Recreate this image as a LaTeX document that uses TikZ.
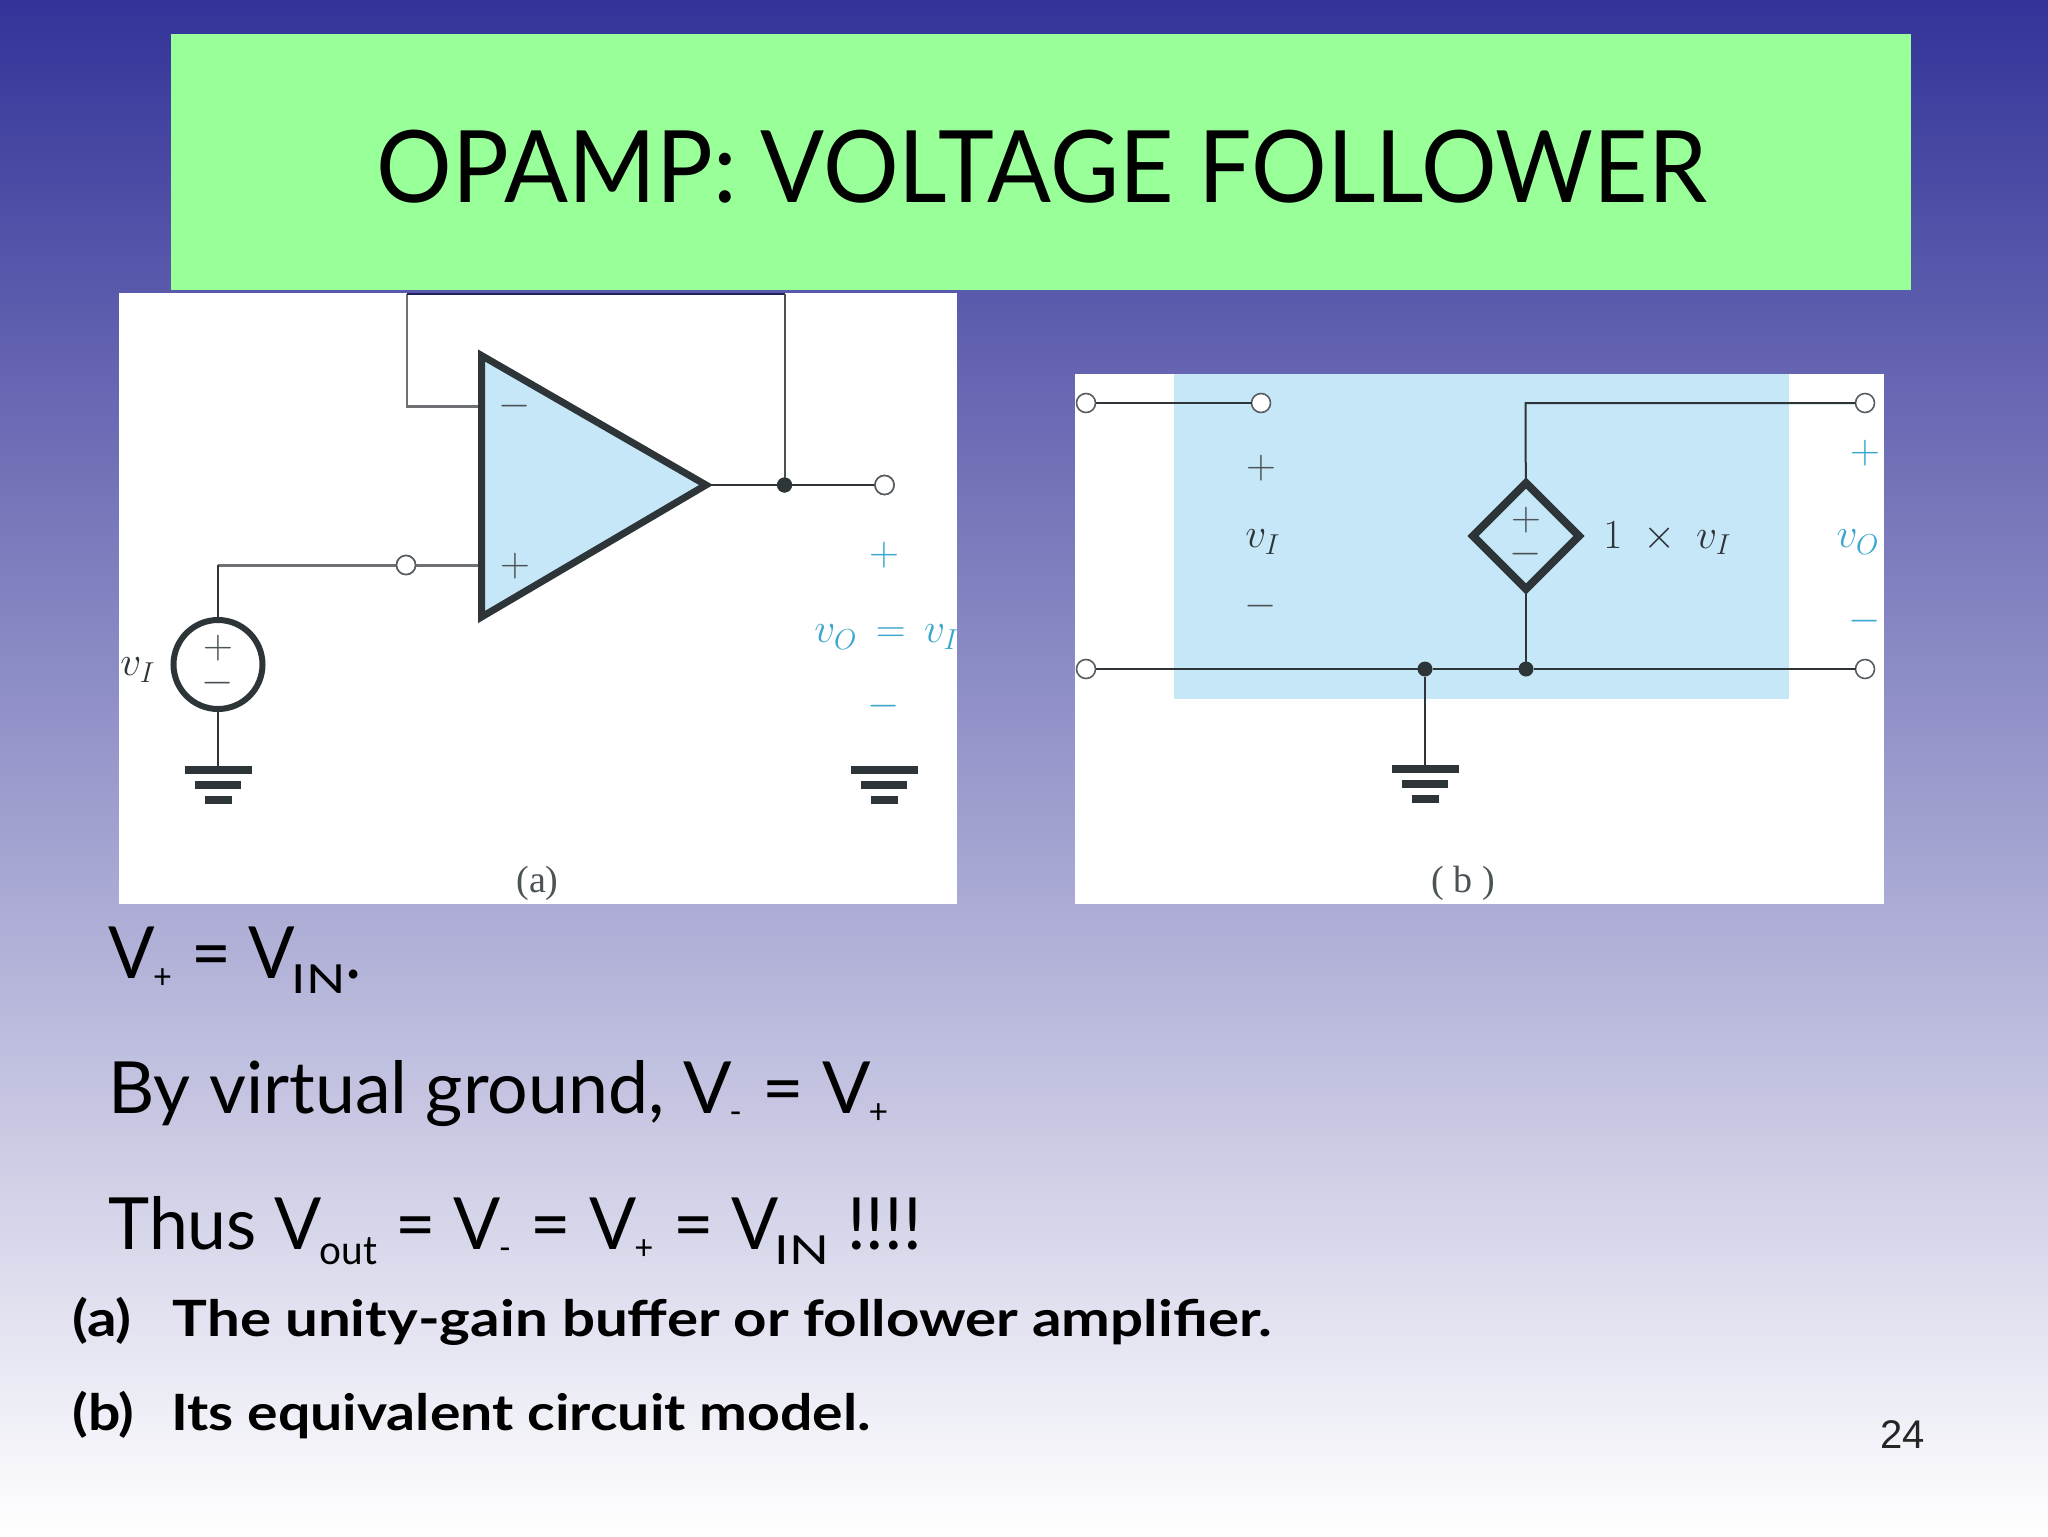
\documentclass[tikz,border=0pt]{standalone}
\usepackage{graphicx}
\usepackage{fontspec}
\usetikzlibrary{shapes.geometric}
\setmainfont{Lato}
\newfontfamily\serifcap{Liberation Serif}
\newfontfamily\numfont{Liberation Sans}
\definecolor{skyfill}{HTML}{C6E7F8}
\definecolor{wiredark}{HTML}{2D3539}
\definecolor{wiregrey}{HTML}{6E7074}
\definecolor{cyanlab}{HTML}{3BA7CE}
\definecolor{titlegreen}{HTML}{99FF99}
\definecolor{bgtop}{HTML}{333399}
\newcommand{\lowtxt}[1]{\hspace{-1pt}\raisebox{-7.5pt}{\fontsize{20}{20}\selectfont #1}}
\newcommand{\lowin}{\hspace{-2pt}\raisebox{-7.5pt}{\fontsize{20}{20}\selectfont\scalebox{1.35}[1]{IN}}}
\newcommand{\lowsign}[1]{\hspace{-1pt}\raisebox{-5pt}{\fontsize{17}{17}\selectfont #1}\hspace{1pt}}
\tikzset{
  wire/.style={draw=wiredark,line width=1pt},
  greywire/.style={draw=wiregrey,line width=1.5pt},
  terminal/.style={circle,draw=wiredark!80,fill=white,line width=0.8pt,minimum size=9.5pt,inner sep=0pt,outer sep=0pt},
  junction/.style={circle,fill=wiredark,minimum size=7.5pt,inner sep=0pt,outer sep=0pt},
  source/.style={circle,draw=wiredark,line width=3pt,fill=white,minimum size=44.5pt,inner sep=0pt,outer sep=0pt},
  depsource/.style={diamond,aspect=1,draw=wiredark,line width=4pt,fill=skyfill,minimum size=53pt,inner sep=0pt,outer sep=0pt},
  amp/.style={draw=wiredark,line width=3.5pt,fill=skyfill,line join=miter},
  sign/.style={inner sep=0pt,font=\fontsize{21}{21}\selectfont,text=wiredark!85},
  cysign/.style={inner sep=0pt,font=\fontsize{21}{21}\selectfont,text=cyanlab},
  mlabel/.style={inner sep=0pt,font=\fontsize{22}{22}\selectfont,text=wiredark},
  caplabel/.style={inner sep=0pt,font=\serifcap\fontsize{19}{19}\selectfont,text=wiredark!85},
  bodyline/.style={anchor=base west,inner sep=0pt,font=\fontsize{36}{36}\selectfont,text=black},
  noteline/.style={anchor=base west,inner sep=0pt,font=\bfseries\fontsize{25}{25}\selectfont,text=black},
  gbar/.style={draw=wiredark,line width=4pt},
  gnd/.pic={
    \draw[gbar] (-33.5,0) -- (33.5,0);
    \draw[gbar] (-23,14.5) -- (23,14.5);
    \draw[gbar] (-13.5,29.5) -- (13.5,29.5);
  }
}
\begin{document}
\begin{tikzpicture}[x=0.5pt,y=-0.5pt]
\useasboundingbox (0,0) rectangle (2048,1536);
\shade[top color=bgtop,bottom color=white] (0,0) rectangle (2048,1536);
\fill[titlegreen] (171,34) rectangle (1911,290);
\node[anchor=base west,inner sep=0pt,font=\fontsize{50}{50}\selectfont,text=black] (title) at (376,202) {\scalebox{0.946}[1]{OPAMP: VOLTAGE FOLLOWER}};

% panel a
\fill[white] (119,293) rectangle (957,904);
\coordinate (tl) at (407,294);
\coordinate (tr) at (784.5,294);
\coordinate (inv) at (481.5,406.5);
\coordinate (noninv) at (481.5,565);
\coordinate (ampT) at (481.5,355.5);
\coordinate (ampB) at (481.5,617);
\coordinate (ampR) at (706,485);
\coordinate (bend) at (218,565);
\coordinate (g1) at (218,770);
\coordinate (g2) at (884,770);
\node[junction] (jo) at (784.5,485) {};
\node[terminal] (to) at (884.5,485) {};
\node[terminal] (ti) at (406,565) {};
\node[source] (vs) at (218,664.5) {};
\draw[wire,draw=wiregrey,line width=1.2pt] (inv) -| (tl);
\draw[wire,draw=bgtop!60!black] (tl) -- (tr);
\draw[wire,draw=wiredark!85] (tr) -- (jo);
\draw[wire] (ampR) -- (jo) -- (to);
\draw[greywire] (noninv) -- (ti) -- (bend);
\draw[wire] (bend) -- (vs);
\draw[wire] (vs) -- (g1);
\draw[amp] (ampT) -- (ampR) -- (ampB) -- cycle;
\node[junction] at (jo) {};
\node[terminal] at (to) {};
\node[terminal] at (ti) {};
\pic at (g1) {gnd};
\pic at (g2) {gnd};
\node[sign] (am) at (515,406.5) {$-$};
\node[sign] (ap) at (515,566.5) {$+$};
\node[sign] (sp) at (218,648) {$+$};
\node[sign] (sm) at (218,683) {$-$};
\node[mlabel] (lvi) at (138,670) {$v_I$};
\node[cysign] (op) at (884,555.5) {$+$};
\node[cysign] (om) at (884,706.5) {$-$};
\begin{scope}
\clip (119,293) rectangle (957,904);
\node[mlabel,text=cyanlab,anchor=west] (lvo) at (814,637) {$v_O\,=\,v_I$};
\end{scope}
\node[caplabel] (capa) at (537.5,883) {(a)};

% panel b
\fill[white] (1075,373.5) rectangle (1884,904);
\fill[skyfill] (1174,373.5) rectangle (1788.5,699);
\coordinate (bt) at (1525.5,403);
\coordinate (g3) at (1425,769);
\node[terminal] (t1) at (1086,403) {};
\node[terminal] (t2) at (1261,403) {};
\node[terminal] (t3) at (1865,403) {};
\node[terminal] (t4) at (1086,669) {};
\node[terminal] (t5) at (1865,669) {};
\node[junction] (j1) at (1425,669) {};
\node[junction] (j2) at (1526,669) {};
\node[depsource] (dep) at (1526,536) {};
\draw[wire] (t1) -- (t2);
\draw[wire] (t3) -- (bt) -- (dep);
\draw[wire] (dep) -- (j2);
\draw[wire] (t4) -- (j1) -- (j2) -- (t5);
\draw[wire] (j1) -- (g3);
\pic at (g3) {gnd};
\node[sign] (dp) at (1526,520) {$+$};
\node[sign] (dm) at (1526,554) {$-$};
\node[mlabel,anchor=west] (gain) at (1603,538) {$1\;\times\;v_I$};
\node[sign] (ip) at (1261,468) {$+$};
\node[mlabel] (ivi) at (1263,542) {$v_I$};
\node[sign] (im) at (1261,606) {$-$};
\node[cysign] (rp) at (1865,453.5) {$+$};
\node[mlabel,text=cyanlab] (rvo) at (1858,542) {$v_O$};
\node[cysign] (rm) at (1865,621) {$-$};
\node[caplabel] (capb) at (1463,883) {( b )};

% text
\node[bodyline] (l1) at (108,978.5) {\scalebox{0.955}[1]{V\lowsign{+} = V\lowin.}};
\node[bodyline] (l2) at (108,1113.5) {\scalebox{0.995}[1]{By virtual ground, V\lowsign{-} = V\lowsign{+}}};
\node[bodyline] (l3) at (108,1249) {\scalebox{0.968}[1]{Thus V\lowtxt{out} = V\lowsign{-} = V\lowsign{+} = V\lowin{} !!!!}};
\node[noteline] (n1) at (72,1336) {\scalebox{1.165}[1]{(a)\hspace{17.5pt}The unity-gain buffer or follower amplifier.}};
\node[noteline] (n2) at (72,1430) {\scalebox{1.143}[1]{(b)\hspace{16pt}Its equivalent circuit model.}};
\node[anchor=base east,inner sep=0pt,font=\numfont\fontsize{20}{20}\selectfont,text=black!85] (pg) at (1925.5,1448) {24};
\end{tikzpicture}
\end{document}
